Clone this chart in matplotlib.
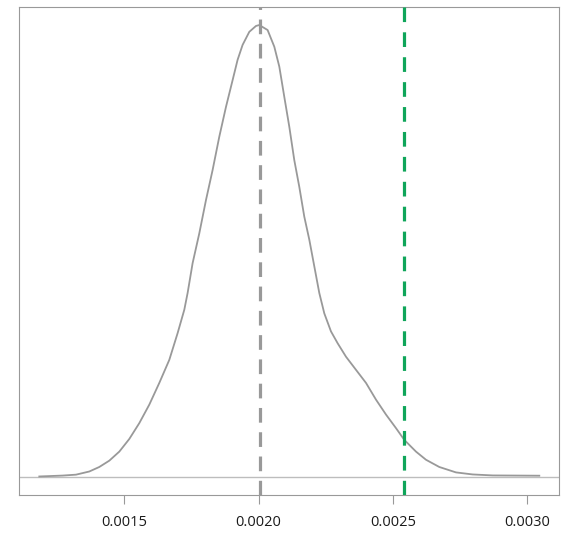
import matplotlib
matplotlib.use("Agg")
import matplotlib.pyplot as plt

# density estimate (x value, relative density)
x_vals = [0.0011835, 0.0012703, 0.0013202, 0.0013697, 0.0014069, 0.0014442,
          0.0014814, 0.0015186, 0.0015558, 0.0015931, 0.0016303, 0.0016675,
          0.0016984, 0.0017234, 0.0017357, 0.0017543, 0.0017792, 0.0018042,
          0.0018287, 0.0018537, 0.0018786, 0.0019032, 0.0019218, 0.0019404,
          0.0019654, 0.0019903, 0.0020026, 0.0020335, 0.0020585, 0.0020771,
          0.0020957, 0.0021143, 0.0021329, 0.0021515, 0.0021701, 0.0021888,
          0.0022074, 0.0022260, 0.0022446, 0.0022695, 0.0022941, 0.0023254,
          0.0023626, 0.0023999, 0.0024371, 0.0024743, 0.0025115, 0.0025424,
          0.0025860, 0.0026232, 0.0026727, 0.0027349, 0.0027967, 0.0028712,
          0.0030451]
density = [0.001, 0.003, 0.005, 0.012, 0.022, 0.036,
           0.056, 0.084, 0.119, 0.160, 0.208, 0.259,
           0.318, 0.370, 0.407, 0.473, 0.539, 0.613,
           0.679, 0.753, 0.819, 0.878, 0.923, 0.956,
           0.985, 0.998, 1.000, 0.989, 0.952, 0.908,
           0.841, 0.775, 0.701, 0.642, 0.576, 0.525,
           0.466, 0.407, 0.362, 0.322, 0.296, 0.266,
           0.237, 0.208, 0.171, 0.138, 0.108, 0.082,
           0.056, 0.038, 0.022, 0.010, 0.0055, 0.0033,
           0.0027]

center_value = 0.002007
observed_value = 0.00254
tick_values = [0.0015, 0.0020, 0.0025, 0.0030]
tick_labels = ["0.0015", "0.0020", "0.0025", "0.0030"]

gray = "#999999"
green = "#0fa55a"

fig = plt.figure(figsize=(5.71, 5.36), dpi=100)
ax = fig.add_axes([0.0338, 0.0765, 0.9457, 0.9105])

ax.axhline(0, color="#bdbdbd", lw=1.0, zorder=1)
ax.plot(x_vals, density, color=gray, lw=1.3, zorder=2)
ax.axvline(center_value, color=gray, lw=2.3, dashes=(4.6, 3.0), zorder=3)
ax.axvline(observed_value, color=green, lw=2.3, dashes=(4.6, 3.2), zorder=3)

span = x_vals[-1] - x_vals[0]
ax.set_xlim(x_vals[0] - 0.04 * span, x_vals[-1] + 0.04 * span)
ax.set_ylim(-0.04, 1.04)

ax.set_xticks(tick_values)
ax.set_xticklabels(tick_labels, fontfamily="Open Sans", fontsize=10.5, color="#1a1a1a")
ax.set_yticks([])
ax.tick_params(axis="x", length=6.5, width=0.8, color=gray, pad=8)
for s in ax.spines.values():
    s.set_color(gray)
    s.set_linewidth(0.8)

fig.savefig("out.png", dpi=100)
